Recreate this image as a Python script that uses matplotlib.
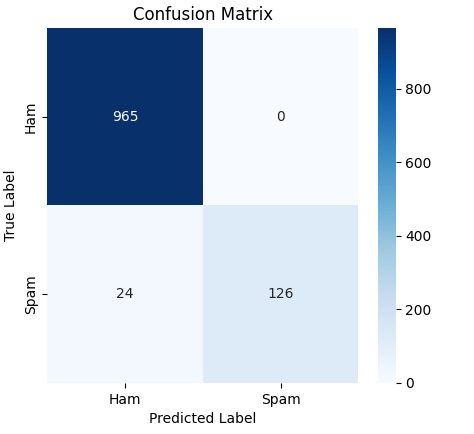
import matplotlib
matplotlib.use("Agg")
import matplotlib.pyplot as plt
import seaborn as sns
import numpy as np

labels = ["Ham", "Spam"]
counts = np.array([[965, 0],
                   [24, 126]])

fig, ax = plt.subplots(figsize=(4.74, 4.34), dpi=100)
sns.heatmap(counts, annot=True, fmt="d", cmap="Blues",
            xticklabels=labels, yticklabels=labels, ax=ax)
ax.set_title("Confusion Matrix")
ax.set_xlabel("Predicted Label")
ax.set_ylabel("True Label")
fig.subplots_adjust(left=0.10, right=0.92, bottom=0.118, top=0.935)
fig.savefig("out.png", dpi=100)
